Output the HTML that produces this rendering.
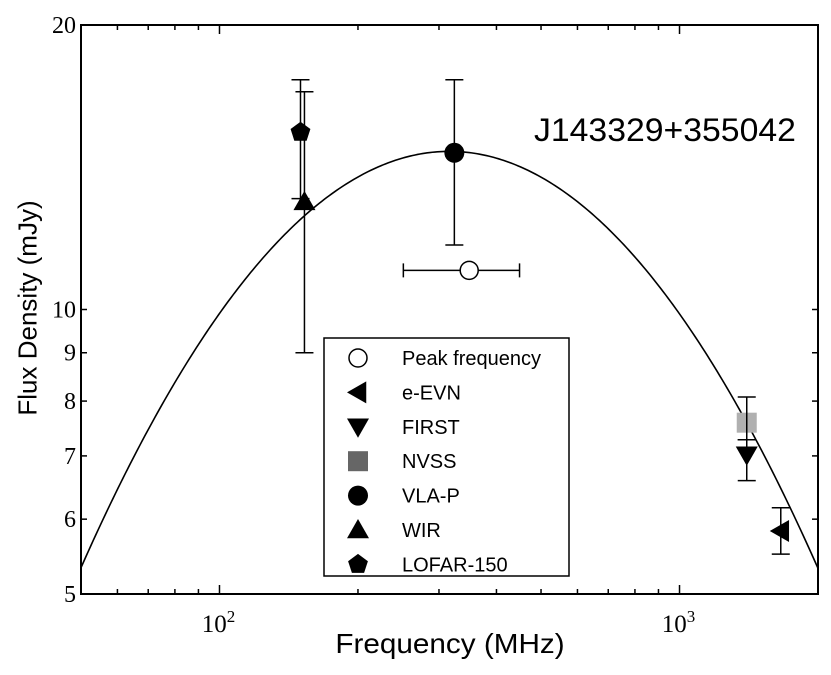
<!DOCTYPE html>
<html><head><meta charset="utf-8"><style>
body{margin:0;background:#fff;}
svg{display:block;}
.serif{font-family:"Liberation Serif",serif;}
.sans{font-family:"Liberation Sans",sans-serif;}
</style></head><body>
<svg id="chart" width="831" height="675" xmlns="http://www.w3.org/2000/svg">
<g id="curve-layer"></g><g id="data-layer"></g><g id="axes-layer"></g>
</svg>
<script>
const xTicksMajor = [100, 1000];
const xTicksMinor = [60,70,80,90,200,300,400,500,600,700,800,900];
const xTickLabels = ["2","3"];
const yTicks = [5,6,7,8,9,10,20];
const yTickLabels = ["5","6","7","8","9","10","20"];
const seriesNames = ["LOFAR-150","WIR","VLA-P","NVSS","FIRST","e-EVN"];
const seriesFreq = [150,153,324,1400,1400,1660];
const seriesFlux = [15.4,13.0,14.65,7.59,7.02,5.83];
const seriesErrHi = [17.5,17.0,17.5,8.08,7.28,6.17];
const seriesErrLo = [13.1,9.0,11.7,7.28,6.59,5.51];
const peakFreq = [349];
const peakFlux = [11.0];
const peakFreqLo = [251];
const peakFreqHi = [449];
const modelParams = [316, 14.7, -0.687]; // turnover freq, peak flux, curvature

const NS="http://www.w3.org/2000/svg";
const L=81,R=818,T=25,B=594;
const xMin=50,xMax=2000,yMin=5,yMax=20;
function xs(f){return L+(R-L)*(Math.log10(f)-Math.log10(xMin))/(Math.log10(xMax)-Math.log10(xMin));}
function ys(v){return B-(B-T)*(Math.log10(v)-Math.log10(yMin))/(Math.log10(yMax)-Math.log10(yMin));}
function mk(tag,attrs,parent){const e=document.createElementNS(NS,tag);for(const k in attrs)e.setAttribute(k,attrs[k]);parent.appendChild(e);return e;}
const svg=document.getElementById('chart');
const cl=document.getElementById('curve-layer'),dl=document.getElementById('data-layer'),al=document.getElementById('axes-layer');

const defs=mk('defs',{},svg);const cp=mk('clipPath',{id:'clip'},defs);mk('rect',{x:L,y:T,width:R-L,height:B-T},cp);
cl.setAttribute('clip-path','url(#clip)');

let d='';
for(let i=0;i<=300;i++){const lf=Math.log10(xMin)+i/300*(Math.log10(xMax)-Math.log10(xMin));
 const ls=Math.log10(modelParams[1])+modelParams[2]*Math.pow(lf-Math.log10(modelParams[0]),2);
 d+=(i?'L':'M')+xs(Math.pow(10,lf)).toFixed(2)+','+ys(Math.pow(10,ls)).toFixed(2);}
const curve=mk('path',{d:d,fill:'none',stroke:'#000','stroke-width':1.6},cl);



function marker(name,x,y,g){
 const s=11;
 if(name==='LOFAR-150'){let p=[];for(let k=0;k<5;k++){const a=-Math.PI/2+k*2*Math.PI/5;p.push((x+s*0.95*Math.cos(a)).toFixed(1)+','+(y+s*0.95*Math.sin(a)).toFixed(1));}return mk('polygon',{points:p.join(' '),fill:'#000'},g);}
 if(name==='WIR')return mk('polygon',{points:`${x},${y-s} ${x-s},${y+s*0.75} ${x+s},${y+s*0.75}`,fill:'#000'},g);
 if(name==='VLA-P')return mk('circle',{cx:x,cy:y,r:10,fill:'#000'},g);
 if(name==='NVSS')return mk('rect',{x:x-10,y:y-10,width:20,height:20,fill:'#b0b0b0'},g);
 if(name==='FIRST')return mk('polygon',{points:`${x},${y+s} ${x-s},${y-s*0.75} ${x+s},${y-s*0.75}`,fill:'#000'},g);
 if(name==='e-EVN')return mk('polygon',{points:`${x-s},${y} ${x+s*0.75},${y-s} ${x+s*0.75},${y+s}`,fill:'#000'},g);
 if(name==='Peak')return mk('circle',{cx:x,cy:y,r:9,fill:'#fff',stroke:'#000','stroke-width':1.5},g);
}
const order=[3,0,1,2,4,5];
order.forEach(i=>{
 const g=mk('g',{},dl);
 
 
 const x=xs(seriesFreq[i]);
 marker(seriesNames[i],x,ys(seriesFlux[i]),g);
 mk('line',{x1:x,x2:x,y1:ys(seriesErrHi[i]),y2:ys(seriesErrLo[i]),stroke:'#000','stroke-width':1.5},g);
 [seriesErrHi[i],seriesErrLo[i]].forEach(v=>mk('line',{x1:x-9,x2:x+9,y1:ys(v),y2:ys(v),stroke:'#000','stroke-width':1.5},g));
});
{const g=mk('g',{},dl);
 
 
 const y=ys(peakFlux[0]);
 mk('line',{x1:xs(peakFreqLo[0]),x2:xs(peakFreqHi[0]),y1:y,y2:y,stroke:'#000','stroke-width':1.5},g);
 [peakFreqLo[0],peakFreqHi[0]].forEach(f=>mk('line',{x1:xs(f),x2:xs(f),y1:y-7,y2:y+7,stroke:'#000','stroke-width':1.5},g));
 marker('Peak',xs(peakFreq[0]),y,g);}

const fr=mk('rect',{x:L,y:T,width:R-L,height:B-T,fill:'none',stroke:'#000','stroke-width':2},al);


xTicksMajor.forEach((f,i)=>{const x=xs(f);
 mk('line',{x1:x,x2:x,y1:B,y2:B-9,stroke:'#000','stroke-width':1.5},al);
 mk('line',{x1:x,x2:x,y1:T,y2:T+9,stroke:'#000','stroke-width':1.5},al);
 const t=mk('text',{x:x-1,y:B+38,'text-anchor':'middle','font-size':25,class:'serif'},al);
 
 
 t.textContent='10';
 const sp=mk('tspan',{dy:-10,'font-size':17},t);sp.textContent=xTickLabels[i];});
xTicksMinor.forEach(f=>{const x=xs(f);
 mk('line',{x1:x,x2:x,y1:B,y2:B-5,stroke:'#000','stroke-width':1.5},al);
 mk('line',{x1:x,x2:x,y1:T,y2:T+5,stroke:'#000','stroke-width':1.5},al);});
yTicks.forEach((v,i)=>{const y=ys(v);
 mk('line',{x1:L,x2:L+6,y1:y,y2:y,stroke:'#000','stroke-width':1.5},al);
 mk('line',{x1:R,x2:R-6,y1:y,y2:y,stroke:'#000','stroke-width':1.5},al);
 const t=mk('text',{x:L-5,y:y+8,'text-anchor':'end','font-size':24,class:'serif'},al);
 
 
 t.textContent=yTickLabels[i];});

const lg=mk('g',{},al);


mk('rect',{x:324,y:338,width:245,height:238,fill:'#fff',stroke:'#000','stroke-width':1.5},lg);
const legNames=['Peak frequency','e-EVN','FIRST','NVSS','VLA-P','WIR','LOFAR-150'];
const legKeys=['Peak','e-EVN','FIRST','NVSS','VLA-P','WIR','LOFAR-150'];
legNames.forEach((n,i)=>{const y=358+i*34.4;
 const e=mk('g',{},lg);
 
 
 const m=marker(legKeys[i],358,y,e);
 if(legKeys[i]==='NVSS')m.setAttribute('fill','#666');
 const t=mk('text',{x:402,y:y+7,'font-size':20,class:'sans'},e);t.textContent=n;});
</script>
<div style="position:absolute;left:0;top:0;width:831px;height:675px;pointer-events:none;">
<div class="sans" style="position:absolute;left:534px;top:112px;font-size:32px;transform-origin:0 0;transform:scaleX(1.055);white-space:nowrap;">J143329+355042</div>
<div class="sans" style="position:absolute;left:450px;top:644px;font-size:28px;white-space:nowrap;transform:translate(-50%,-50%) scaleX(1.06);">Frequency (MHz)</div>
<div class="sans" style="position:absolute;left:28px;top:308px;font-size:26px;white-space:nowrap;transform:translate(-50%,-50%) rotate(-90deg);">Flux Density (mJy)</div>
</div>
</body></html>
